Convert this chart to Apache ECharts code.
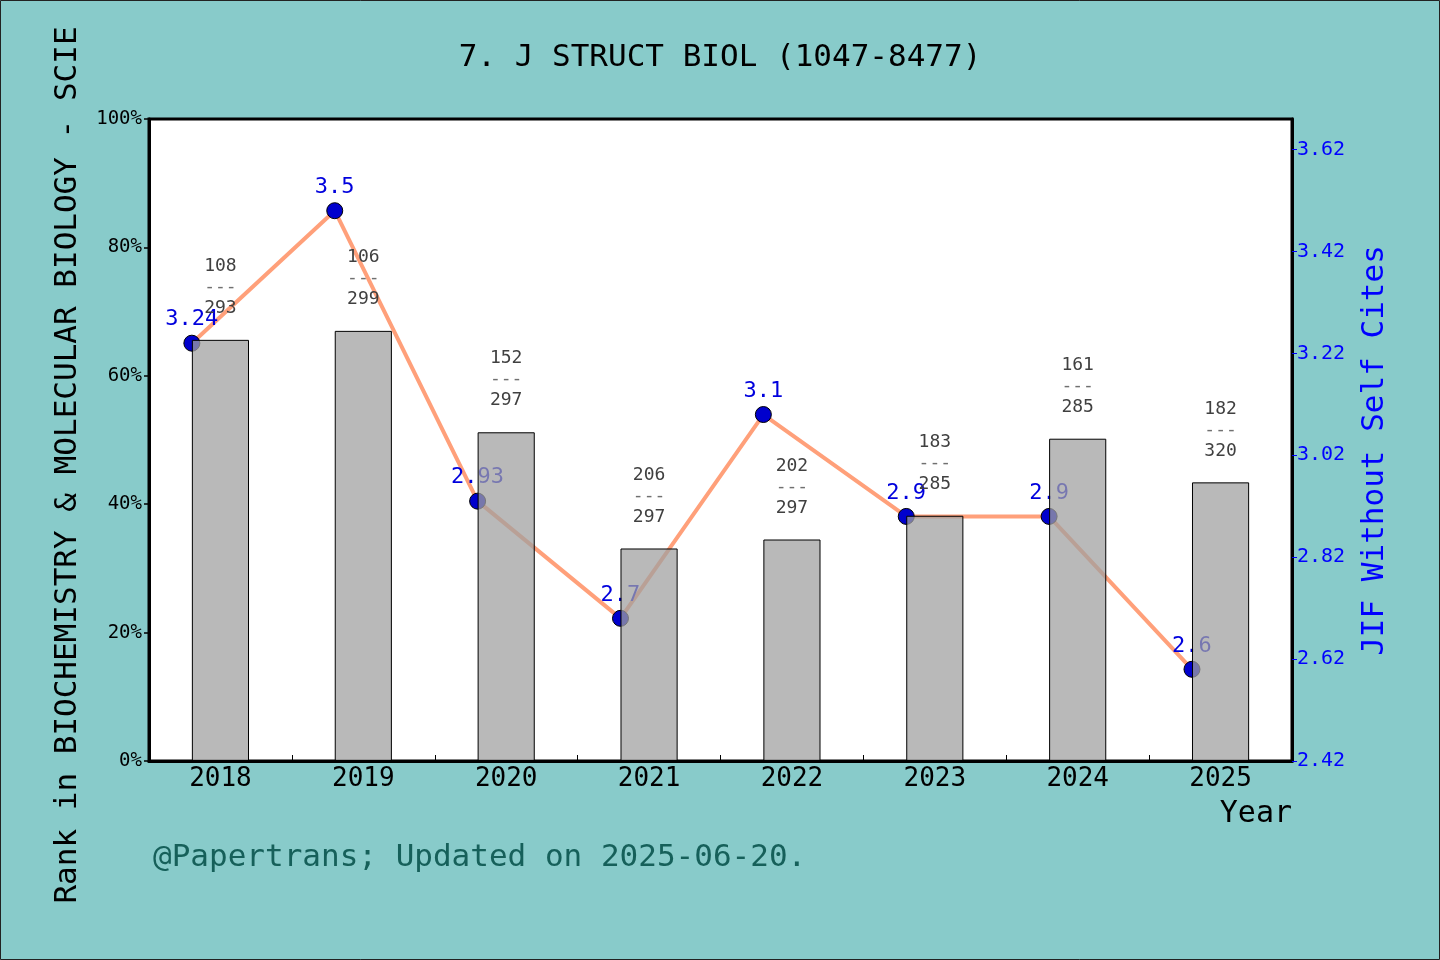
<!DOCTYPE html>
<html>
<head>
<meta charset="utf-8">
<script src="https://cdn.jsdelivr.net/npm/echarts@6/dist/echarts.min.js"></script>
<style>
html,body{margin:0;padding:0;background:#88cbca;}
#c{width:1440px;height:960px;}
</style>
</head>
<body>
<div id="c"></div>
<script>
// ---- data ----
const years = ['2018', '2019', '2020', '2021', '2022', '2023', '2024', '2025'];
const rankPct = [65.6, 67.0, 51.2, 33.1, 34.5, 38.2, 50.2, 43.4];
const rankPos = [108, 106, 152, 206, 202, 183, 161, 182];
const rankTotal = [293, 299, 297, 297, 297, 285, 285, 320];
const jif = [3.24, 3.5, 2.93, 2.7, 3.1, 2.9, 2.9, 2.6];
const jifLabels = ['3.24', '3.5', '2.93', '2.7', '3.1', '2.9', '2.9', '2.6'];

// ---- styling ----
const MONO = '"DejaVu Sans Mono", "Liberation Mono", monospace';
const BAR_WIDTH_FRAC = 0.4;          // bar width as fraction of category
const LINE_SHIFT = BAR_WIDTH_FRAC / 2; // line points sit at left edge of bars

const chart = echarts.init(document.getElementById('c'));

const option = {
  backgroundColor: '#88cbca',
  animation: false,
  title: [
    {
      text: '7. J STRUCT BIOL (1047-8477)',
      left: 'center', top: 37,
      textStyle: { fontFamily: MONO, fontSize: 31, fontWeight: 'normal', color: '#000' }
    },
    {
      text: '@Papertrans; Updated on 2025-06-20.',
      left: 148, top: 837,
      textStyle: { fontFamily: MONO, fontSize: 31, fontWeight: 'normal', color: '#16605a' }
    }
  ],
  graphic: [
    {
      type: 'rect', silent: true, z: 100,
      shape: { x: 0.5, y: 0.5, width: 1439, height: 959 },
      style: { fill: 'none', stroke: '#222', lineWidth: 1 }
    }
  ],
  grid: {
    left: 149, right: 148, top: 119, bottom: 199,
    show: true, backgroundColor: '#ffffff', borderColor: '#000', borderWidth: 3
  },
  xAxis: [
    {
      type: 'category', data: years, boundaryGap: true, z: 10,
      axisLine: { show: true, onZero: false, lineStyle: { color: '#000', width: 3 } },
      axisTick: { show: true, inside: true, length: 6, lineStyle: { color: '#000', width: 1 } },
      axisLabel: { color: '#000', fontSize: 26, fontFamily: MONO, margin: 5 },
      splitLine: { show: false },
      name: 'Year', nameLocation: 'end', nameGap: 0,
      nameTextStyle: {
        fontFamily: MONO, fontSize: 30, color: '#000',
        align: 'right', verticalAlign: 'top', padding: [38, 0, 0, 0]
      }
    },
    {
      type: 'value', min: -0.5, max: years.length - 0.5, show: false
    }
  ],
  yAxis: [
    {
      type: 'value', min: 0, max: 100, interval: 20, position: 'left', z: 10,
      axisLine: { show: true, onZero: false, lineStyle: { color: '#000', width: 3 } },
      axisTick: { show: true, length: 5, lineStyle: { color: '#000', width: 1.5 } },
      axisLabel: { formatter: '{value}%', color: '#000', fontSize: 19, fontFamily: MONO, margin: 7 },
      splitLine: { show: false },
      name: 'Rank in BIOCHEMISTRY & MOLECULAR BIOLOGY - SCIE',
      nameLocation: 'middle', nameGap: 66,
      nameTextStyle: { fontFamily: MONO, fontSize: 31, color: '#000', padding: [0, 50, 0, 0] }
    },
    {
      type: 'value', min: 2.42, max: 3.68, interval: 0.2, position: 'right', z: 10,
      axisLine: { show: true, onZero: false, lineStyle: { color: '#000', width: 3 } },
      axisTick: { show: true, length: 5, lineStyle: { color: '#0000ff', width: 1 } },
      axisLabel: {
        color: '#0000ff', fontSize: 20, fontFamily: MONO, margin: 5,
        showMaxLabel: false,
        formatter: v => Number(v).toFixed(2)
      },
      splitLine: { show: false },
      name: 'JIF Without Self Cites',
      nameLocation: 'middle', nameGap: 67,
      nameTextStyle: { fontFamily: MONO, fontSize: 31, color: '#0000ff', padding: [0, 21, 0, 0] }
    }
  ],
  series: [
    {
      type: 'bar', xAxisIndex: 0, yAxisIndex: 0, z: 3,
      data: rankPct,
      barWidth: (BAR_WIDTH_FRAC * 100) + '%',
      itemStyle: { color: 'rgba(160,160,161,0.74)', borderColor: '#000', borderWidth: 1 },
      emphasis: { disabled: true },
      label: {
        show: true, position: 'top', distance: 21,
        formatter: p => '{n|' + rankPos[p.dataIndex] + '}\n{d|---}\n{n|' + rankTotal[p.dataIndex] + '}',
        rich: {
          n: { fontFamily: MONO, fontSize: 18, color: '#404040', lineHeight: 21, align: 'center' },
          d: { fontFamily: MONO, fontSize: 18, color: '#707070', lineHeight: 21, align: 'center' }
        }
      }
    },
    {
      type: 'line', xAxisIndex: 1, yAxisIndex: 1, z: 2,
      data: jif.map((v, i) => [i - LINE_SHIFT, v]),
      symbol: 'circle', symbolSize: 16,
      lineStyle: { color: '#ffa07a', width: 4 },
      itemStyle: { color: '#0000cd', borderColor: '#000', borderWidth: 1 },
      emphasis: { disabled: true },
      label: {
        show: true, position: 'top', distance: 4,
        color: '#0000dd', fontSize: 22, fontFamily: MONO,
        formatter: p => jifLabels[p.dataIndex]
      }
    }
  ]
};

chart.setOption(option);
</script>
</body>
</html>
